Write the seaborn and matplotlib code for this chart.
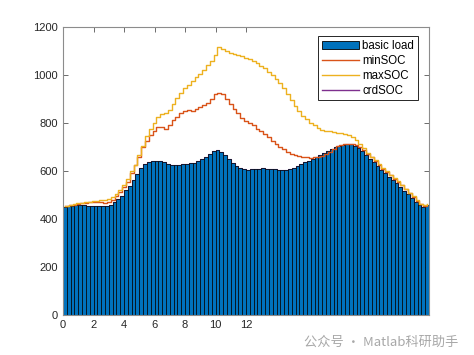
import numpy as np
import pandas as pd
import matplotlib
matplotlib.use("Agg")
import matplotlib.pyplot as plt
import seaborn as sns
from matplotlib.patches import Patch
from matplotlib.lines import Line2D

# --------------------------
# data: 96 quarter-hour slots
# --------------------------
hours = np.arange(96) * 0.25 + 0.125

basic_load = [
    450, 452, 455, 457, 458, 457, 455, 454,
    453, 452, 452, 453, 458, 470, 482, 495,
    520, 537, 562, 588, 612, 628, 637, 642,
    643, 641, 636, 630, 626, 625, 626, 628,
    630, 632, 635, 640, 648, 658, 670, 682,
    686, 680, 668, 650, 632, 620, 612, 607,
    605, 606, 608, 610, 611, 610, 609, 607,
    605, 604, 604, 606, 612, 620, 628, 636,
    643, 650, 658, 666, 673, 681, 690, 698,
    705, 710, 712, 711, 705, 695, 682, 667,
    651, 636, 620, 604, 590, 576, 562, 548,
    534, 518, 502, 486, 470, 456, 450, 456,
]

min_soc = [
    452, 456, 460, 463, 465, 467, 469, 470,
    471, 472, 468, 470, 480, 495, 512, 532,
    555, 590, 625, 660, 700, 725, 748, 768,
    782, 785, 775, 790, 812, 825, 840, 850,
    855, 850, 858, 868, 875, 885, 900, 920,
    925, 920, 900, 880, 860, 840, 820, 808,
    800, 790, 775, 765, 755, 740, 725, 712,
    700, 690, 680, 672, 666, 662, 658, 656,
    655, 656, 660, 664, 670, 680, 692, 702,
    708, 712, 714, 712, 708, 699, 687, 672,
    657, 642, 626, 610, 596, 582, 568, 554,
    540, 524, 508, 492, 476, 462, 455, 460,
]

max_soc = [
    452, 458, 462, 465, 467, 469, 471, 473,
    475, 477, 479, 481, 490, 505, 520, 540,
    565, 600, 625, 665, 705, 745, 775, 800,
    825, 838, 840, 855, 880, 905, 925, 945,
    960, 975, 990, 1005, 1020, 1040, 1060, 1085,
    1115, 1110, 1100, 1093, 1088, 1082, 1078, 1072,
    1066, 1058, 1048, 1038, 1028, 1014, 1000, 985,
    965, 945, 920, 895, 870, 850, 830, 815,
    800, 790, 780, 772, 768, 765, 762, 760,
    758, 755, 750, 742, 730, 712, 695, 676,
    660, 645, 629, 613, 598, 584, 570, 556,
    542, 526, 510, 494, 478, 464, 457, 462,
]

# coordinated SOC sits on the base load, hidden behind the bars
crd_soc = list(basic_load)

df = pd.DataFrame({"hour": hours, "load": basic_load,
                   "minSOC": min_soc, "maxSOC": max_soc, "crdSOC": crd_soc})

c_bar = "#0072BD"
c_min = "#D95319"
c_max = "#EDB120"
c_crd = "#7E2F8E"
grey = "#262626"

plt.rcParams["font.family"] = ["Liberation Sans", "DejaVu Sans"]

fig = plt.figure(figsize=(4.74, 3.55), dpi=100)
ax = fig.add_axes([0.133, 0.113, 0.772, 0.811])

sns.lineplot(data=df, x="hour", y="crdSOC", color=c_crd, lw=0.8,
             drawstyle="steps-mid", ax=ax, zorder=1)
sns.barplot(data=df, x="hour", y="load", native_scale=True, width=1.0,
            color=c_bar, saturation=1, edgecolor="black", linewidth=0.5,
            ax=ax, zorder=2)
sns.lineplot(data=df, x="hour", y="minSOC", color=c_min, lw=1.0,
             drawstyle="steps-post", ax=ax, zorder=3)
sns.lineplot(data=df, x="hour", y="maxSOC", color=c_max, lw=1.0,
             drawstyle="steps-post", ax=ax, zorder=4)

ax.set_xlim(0, 24)
ax.set_ylim(0, 1200)
ax.set_xticks(np.arange(0, 13, 2))
ax.set_yticks(np.arange(0, 1201, 200))
ax.set_xlabel("")
ax.set_ylabel("")
for s in ax.spines.values():
    s.set_color("#8c8c8c")
    s.set_linewidth(0.8)
ax.tick_params(direction="in", length=3.5, width=0.6, color="#555555",
               labelsize=8, labelcolor=grey, top=True, right=True)

handles = [
    Patch(facecolor=c_bar, edgecolor="black", linewidth=0.6),
    Line2D([], [], color=c_min, lw=1.0),
    Line2D([], [], color=c_max, lw=1.0),
    Line2D([], [], color=c_crd, lw=1.0),
]
leg = ax.legend(handles, ["basic load", "minSOC", "maxSOC", "crdSOC"],
                loc="upper right", bbox_to_anchor=(0.975, 0.975), fontsize=8.3,
                fancybox=False, framealpha=1, edgecolor="#262626",
                borderpad=0.3, labelspacing=0.25, handlelength=3.2,
                handletextpad=0.3, borderaxespad=0.2)
leg.get_frame().set_linewidth(0.7)

fig.text(0.968, 0.035, "公众号 · Matlab科研助手", ha="right", va="center",
         fontsize=9.5, color="#a8a8a8",
         family=["Noto Sans CJK SC", "DejaVu Sans"])

fig.savefig("out.png", dpi=100)
